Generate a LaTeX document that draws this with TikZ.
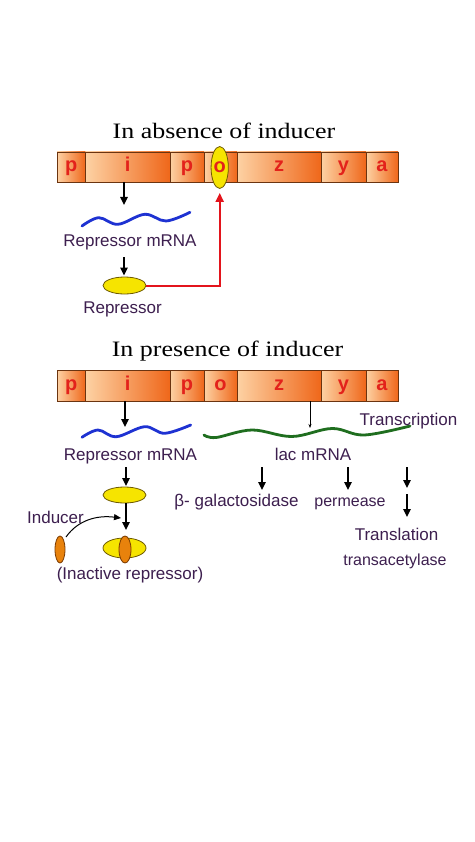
\documentclass[tikz,border=0pt]{standalone}
\usepackage{graphicx}
\usepackage{fontspec}
\setmainfont{Liberation Serif}
\setsansfont{Liberation Sans}
\usetikzlibrary{arrows.meta, shapes.geometric}

\definecolor{segL}{HTML}{FDD2A4}
\definecolor{segR}{HTML}{EF671A}
\definecolor{segB}{HTML}{6B3410}
\definecolor{letr}{HTML}{E3221B}
\definecolor{txt}{HTML}{3D1F4F}
\definecolor{mblue}{HTML}{1E32D2}
\definecolor{mgreen}{HTML}{1F6E1F}
\definecolor{yel}{HTML}{F6E400}
\definecolor{yelB}{HTML}{6E5A00}
\definecolor{ora}{HTML}{E8820C}
\definecolor{oraB}{HTML}{7A3A00}
\definecolor{rred}{HTML}{E3141C}

\begin{document}
\begin{tikzpicture}[x=1pt,y=-1pt,
  seg/.style={draw=segB, line width=0.9pt, left color=segL, right color=segR,
    minimum height=30pt, inner sep=0pt, text=letr, text height=14pt, text depth=4pt,
    font=\sffamily\bfseries\fontsize{20pt}{20pt}\selectfont},
  title/.style={anchor=base, inner sep=0pt, text=black,
    font=\rmfamily\fontsize{22pt}{22pt}\selectfont},
  lbl/.style={anchor=base, inner sep=0pt, text=txt,
    font=\sffamily\fontsize{17pt}{17pt}\selectfont},
  slbl/.style={lbl, font=\sffamily\fontsize{16pt}{16pt}\selectfont},
  arr/.style={draw=black, line width=1.4pt, -{Triangle[length=8pt,width=7.5pt]}},
  thinarr/.style={draw=black, line width=0.6pt, -{Stealth[length=4pt,width=3pt]}},
  redarr/.style={draw=rred, line width=2pt, -{Triangle[length=9pt,width=8pt]}},
  wave/.style={line width=2.8pt, line cap=round},
  yov/.style={ellipse, draw=yelB, line width=0.8pt, fill=yel, inner sep=0pt},
  oov/.style={ellipse, draw=oraB, line width=0.8pt, fill=ora, inner sep=0pt},
]
\useasboundingbox[fill=white] (0,0) rectangle (474,842);

% ---------- top: absence of inducer ----------
\node[title] (t1) at (224,138.3) {\scalebox{1.18}[1]{In absence of inducer}};

\node[seg, minimum width=28.5pt] (ap1) at (71.25,167) {p};
\node[seg, minimum width=84.5pt] (ai)  at (127.75,167) {i};
\node[seg, minimum width=34pt]   (ap2) at (187,167) {p};
\node[seg, minimum width=33pt]   (ao)  at (220.5,167) {};
\node[seg, minimum width=84pt]   (az)  at (279,167) {z};
\node[seg, minimum width=45pt]   (ay)  at (343.5,167) {y};
\node[seg, minimum width=32pt]   (aa)  at (382,167) {a};
\node[yov, minimum width=15pt, minimum height=42pt, text=letr,
      text height=14pt, text depth=4pt,
      font=\sffamily\bfseries\fontsize{20pt}{20pt}\selectfont] (oe) at (219.7,167.5) {o};

\coordinate (aw1) at (124,205);
\draw[wave, mblue] plot[smooth, tension=0.6] coordinates
  {(82,226) (98.7,217.7) (118,224.3) (144.7,214.3) (166,221) (190,212.3)};
\node[lbl] (rm1) at (130,246.7) {Repressor mRNA};
\node[yov, minimum width=43pt, minimum height=17pt] (rep1) at (124.5,285.5) {};
\node[lbl] (rl1) at (122.5,313.3) {Repressor};

\draw[arr] (124,182) -- (aw1);
\coordinate (ar1) at (124,275.5);
\draw[arr] (124,257) -- (ar1);
\draw[redarr] (rep1.east) -| ([yshift=-4pt]oe.south);

% ---------- bottom: presence of inducer ----------
\node[title] (t2) at (227.5,356.7) {\scalebox{1.18}[1]{In presence of inducer}};

\node[seg, minimum width=28.5pt, minimum height=31pt] (bp1) at (71.25,385.5) {p};
\node[seg, minimum width=84.5pt, minimum height=31pt] (bi)  at (127.75,385.5) {i};
\node[seg, minimum width=34pt, minimum height=31pt]   (bp2) at (187,385.5) {p};
\node[seg, minimum width=33pt, minimum height=31pt]   (bo)  at (220.5,385.5) {o};
\node[seg, minimum width=84pt, minimum height=31pt]   (bz)  at (279,385.5) {z};
\node[seg, minimum width=45pt, minimum height=31pt]   (by)  at (343.5,385.5) {y};
\node[seg, minimum width=32pt, minimum height=31pt]   (ba)  at (382,385.5) {a};

\draw[wave, mblue] plot[smooth, tension=0.6] coordinates
  {(82,437.3) (98,430) (116.3,436.7) (144.7,426.7) (164.7,433.3) (190.7,425)};
\draw[wave, mgreen] plot[smooth, tension=0.6] coordinates
  {(204,435) (216,437.5) (252,430) (292,436.5) (332,428.5) (364,435) (410,426)};

\node[lbl] (trs) at (408.5,425) {Transcription};
\coordinate (bw1) at (125,427);
\draw[arr] (125,401) -- (bw1);
\coordinate (gw1) at (310,428);
\draw[thinarr] (310,401) -- (gw1);

\node[lbl] (rm2) at (130.5,460) {Repressor mRNA};
\node[lbl] (lac) at (313,460) {lac mRNA};

\node[yov, minimum width=43pt, minimum height=16pt] (rep2) at (124.5,495) {};
\coordinate (rt2) at (126,486);
\draw[arr] (126,467) -- (rt2);
\coordinate (ib) at (126,530);
\draw[arr] (126,503) -- (ib);

\node[lbl] (indl) at (55.5,523.3) {Inducer};
\node[oov, minimum width=10pt, minimum height=27pt] (ind) at (60,549.5) {};
\coordinate (indt) at (121,518);
\draw[draw=black, line width=1pt, -{Triangle[length=7pt,width=6pt]}]
  (66,537) .. controls (78,520) and (97,515) .. (indt);

\node[yov, minimum width=43pt, minimum height=20pt] (inr) at (124.5,548) {};
\node[oov, minimum width=12pt, minimum height=27pt] (inr2) at (125,549.5) {};
\node[lbl] (inact) at (130,579) {(Inactive repressor)};

\node[lbl] (bgal) at (236.5,506) {β- galactosidase};
\node[slbl] (perm) at (350,506) {permease};
\node[lbl] (trl) at (396.5,540.7) {Translation};
\node[slbl] (tac) at (395,565.7) {transacetylase};

\coordinate (g1) at (262,490);
\coordinate (g2) at (348,490);
\coordinate (g3) at (407,488);
\coordinate (g4) at (407,517);
\draw[arr] (262,467) -- (g1);
\draw[arr] (348,467) -- (g2);
\draw[arr] (407,467) -- (g3);
\draw[arr] (407,494) -- (g4);
\end{tikzpicture}
\end{document}
